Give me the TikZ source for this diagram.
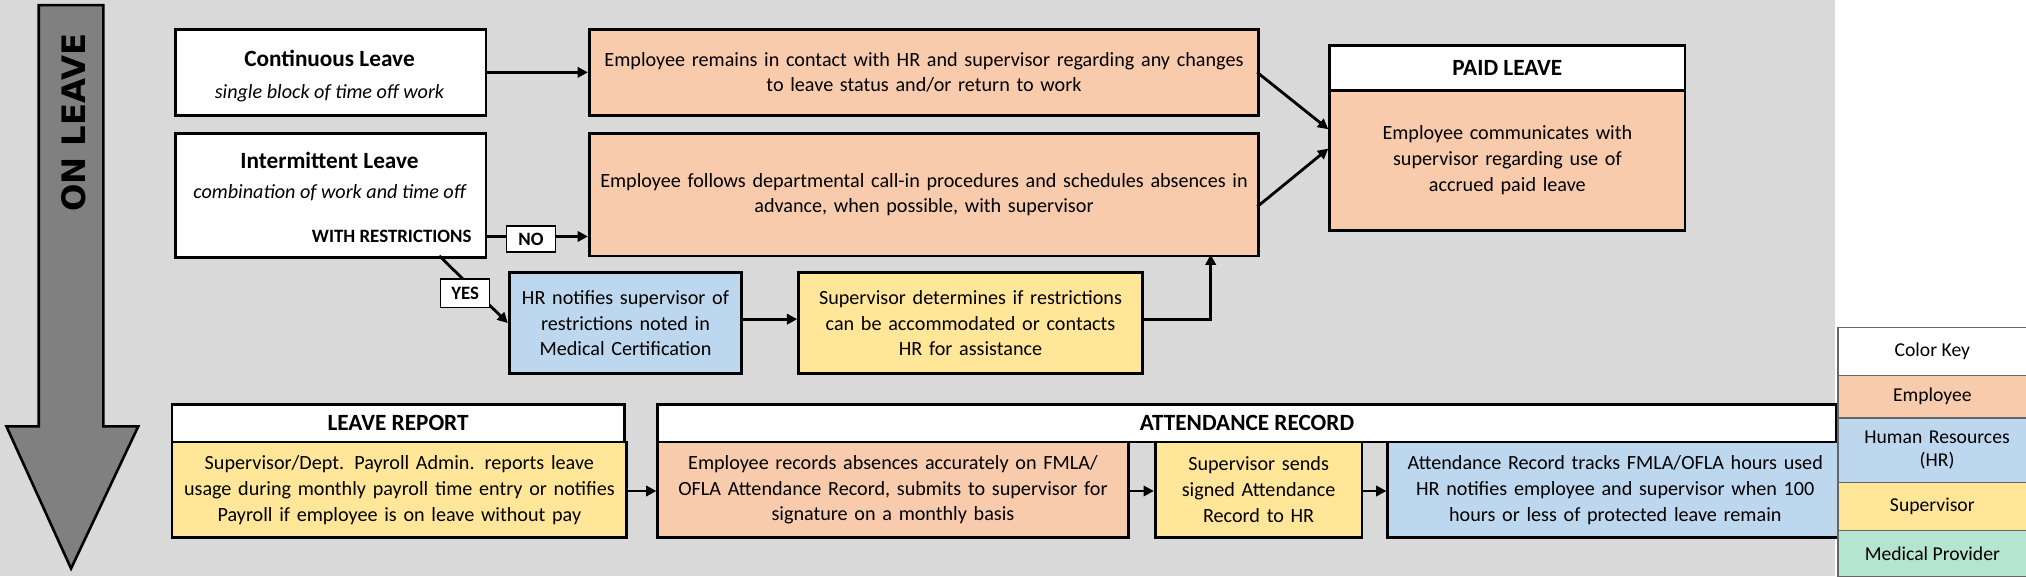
\documentclass[tikz,border=0pt]{standalone}
\usepackage{fontspec}
\setmainfont{Carlito}
\newfontfamily\dejavu{DejaVu Sans}
\usetikzlibrary{arrows.meta}
\definecolor{emp}{HTML}{F8CBAD}
\definecolor{hr}{HTML}{BDD7EE}
\definecolor{sup}{HTML}{FFE699}
\definecolor{med}{HTML}{B4E5CF}
\definecolor{bg}{HTML}{D9D9D9}
\begin{document}
\begin{tikzpicture}[x=0.5pt,y=-0.5pt,
 box/.style={draw=black,line width=1.1pt,anchor=north west,inner sep=2pt,align=center,font=\fontsize{7.8}{10}\selectfont},
 hdr/.style={box,font=\fontsize{9}{10}\selectfont\bfseries},
 lab/.style={draw=black,line width=0.5pt,fill=white,font=\fontsize{7.3}{8}\selectfont\bfseries,inner sep=2pt},
 key/.style={draw=black!60,line width=0.5pt,anchor=north west,align=center,font=\fontsize{7.6}{9}\selectfont},
 arr/.style={line width=1.1pt,-{Triangle[length=4pt,width=4pt]}}]
\useasboundingbox (0,0) rectangle (1568,446);
\fill[bg] (0,0) rectangle (1420,446);
% big arrow
\draw[fill=black!50,line width=1pt] (30,4) -- (80,4) -- (80,330) -- (107,330) -- (55,440) -- (5,330) -- (30,330) -- cycle;
\node[rotate=90,font=\dejavu\bfseries\fontsize{12.5}{14}\selectfont] (on) at (57,95) {ON LEAVE};
% left boxes
\node[box,fill=white,minimum width=120pt,minimum height=33pt] (cont) at (135,22) {};
\node[font=\fontsize{9}{10}\selectfont\bfseries] (ct) at (255,45) {Continuous Leave};
\node[font=\fontsize{7.8}{9}\selectfont\itshape] (cs) at (255,72) {single block of time off work};
\node[box,fill=white,minimum width=120pt,minimum height=48pt] (int) at (135,102) {};
\node[font=\fontsize{9}{10}\selectfont\bfseries] (it) at (255,124) {Intermittent Leave};
\node[font=\fontsize{7.8}{9}\selectfont\itshape] (is) at (255,149) {combination of work and time off};
\node[font=\fontsize{7.3}{8}\selectfont\bfseries,anchor=east] (wr) at (372,183) {WITH RESTRICTIONS};
% orange boxes
\node[box,fill=emp,minimum width=259pt,minimum height=33pt,text width=255pt] (o1) at (455,22) {Employee remains in contact with HR and supervisor regarding any changes\\to leave status and/or return to work};
\node[box,fill=emp,minimum width=259pt,minimum height=47.5pt,text width=255pt] (o2) at (455,102) {Employee follows departmental call-in procedures and schedules absences in\\advance, when possible, with supervisor};
\node[box,fill=hr,minimum width=88.5pt,minimum height=39pt,text width=86pt] (hrn) at (393,210) {HR notifies supervisor of\\restrictions noted in\\Medical Certification};
\node[box,fill=sup,minimum width=133pt,minimum height=39pt,text width=128pt] (sd) at (617,210) {Supervisor determines if restrictions\\can be accommodated or contacts\\HR for assistance};
% paid leave
\node[hdr,fill=white,minimum width=137.5pt,minimum height=17.5pt] (ph) at (1028,34) {PAID LEAVE};
\node[box,fill=emp,minimum width=137.5pt,minimum height=54pt,text width=130pt] (pb) at (1028,69) {Employee communicates with\\supervisor regarding use of\\accrued paid leave};
% arrows top
\draw[arr] (cont.east |- 0,56) -- (o1.west |- 0,56);
\node[lab,minimum width=19pt,minimum height=10pt] (no) at (411,185) {NO};
\draw[line width=1.1pt] (int.east |- 0,183) -- (no.west |- 0,183);
\draw[arr] (no.east |- 0,183) -- (o2.west |- 0,183);
\coordinate (ys) at (340,198);
\draw[arr] (ys) -- (hrn.west |- 0,250);
\node[lab,minimum width=19pt,minimum height=11pt] (yes) at (360,227) {YES};
\draw[arr] (hrn.east |- 0,247) -- (sd.west |- 0,247);
\coordinate (bend) at (937,247);
\draw[arr] (sd.east |- 0,247) -- (bend) -- (937,197);
\draw[arr] (973,56) -- (pb.west |- 0,100);
\draw[arr] (973,160) -- (pb.west |- 0,115);
% bottom
\node[hdr,fill=white,minimum width=175pt,minimum height=14.5pt] (lh) at (132,312) {LEAVE REPORT};
\node[box,fill=sup,minimum width=175pt,minimum height=37pt,text width=172pt] (lb) at (132,341) {Supervisor/Dept. Payroll Admin. reports leave\\usage during monthly payroll time entry or notifies\\Payroll if employee is on leave without pay};
\node[hdr,fill=white,minimum width=456pt,minimum height=14.5pt] (ah) at (508,312) {ATTENDANCE RECORD};
\node[box,fill=emp,minimum width=180.5pt,minimum height=37pt,text width=178pt] (a1) at (508,341) {Employee records absences accurately on FMLA/\\OFLA Attendance Record, submits to supervisor for\\signature on a monthly basis};
\node[box,fill=sup,minimum width=78.5pt,minimum height=37pt,text width=76pt] (a2) at (893,341) {Supervisor sends\\signed Attendance\\Record to HR};
\node[box,fill=hr,minimum width=173.5pt,minimum height=37pt,text width=172pt] (a3) at (1073,341) {Attendance Record tracks FMLA/OFLA hours used\\HR notifies employee and supervisor when 100\\hours or less of protected leave remain};
\draw[arr] (lb.east |- 0,380) -- (a1.west |- 0,380);
\draw[arr] (a1.east |- 0,380) -- (a2.west |- 0,380);
\draw[arr] (a2.east |- 0,380) -- (a3.west |- 0,380);
% key
\node[key,fill=white,minimum width=73pt,minimum height=18.5pt] (k0) at (1422,253) {Color Key};
\node[key,fill=emp,minimum width=73pt,minimum height=16.5pt] (k1) at (1422,290) {Employee};
\node[key,fill=hr,minimum width=73pt,minimum height=25pt,text width=70pt] (k2) at (1422,323) {Human Resources\\(HR)};
\node[key,fill=sup,minimum width=73pt,minimum height=18.5pt] (k3) at (1422,373) {Supervisor};
\node[key,fill=med,minimum width=73pt,minimum height=18pt] (k4) at (1422,410) {Medical Provider};
\end{tikzpicture}
\end{document}
